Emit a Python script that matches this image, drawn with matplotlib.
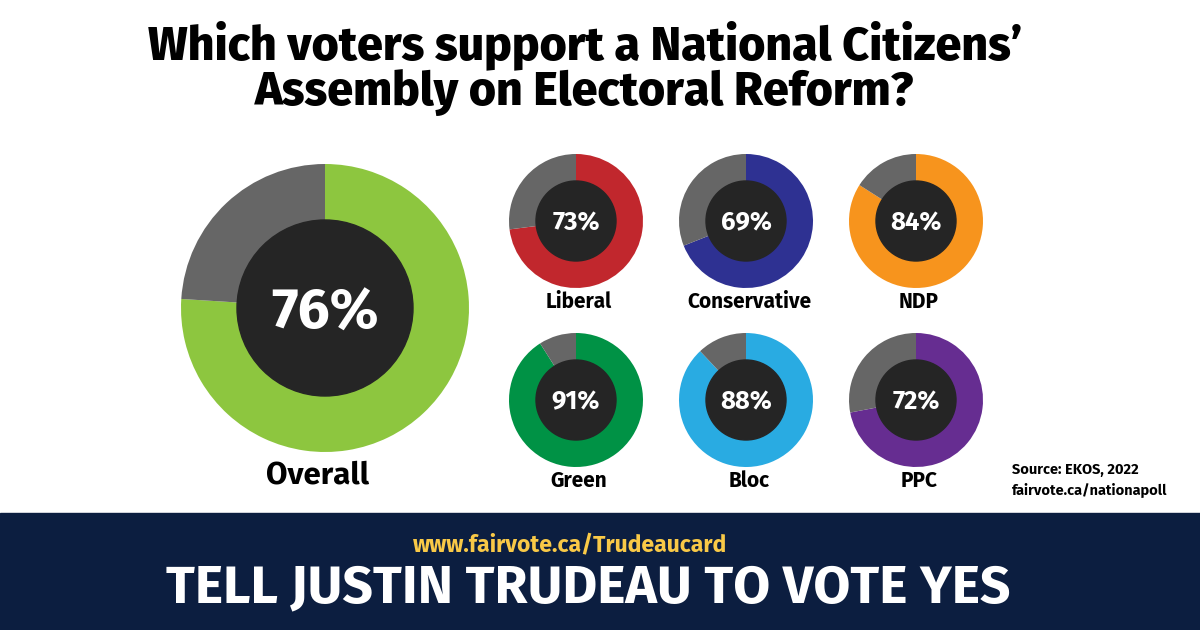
import matplotlib
matplotlib.use('Agg')
import matplotlib.pyplot as plt
from matplotlib.patches import Circle, Rectangle

# datos
titulo = ["Which voters support a National Citizens\u2019", "Assembly on Electoral Reform?"]
total_pct = 76
total_nombre = "Overall"
partidos = ["Liberal", "Conservative", "NDP", "Green", "Bloc", "PPC"]
apoyo = [73, 69, 84, 91, 88, 72]
colores = ["#c1272d", "#2e3192", "#f7941d", "#009245", "#29abe2", "#662d91"]
fuente = ["Source: EKOS, 2022", "fairvote.ca/nationapoll"]
url = "www.fairvote.ca/Trudeaucard"
lema = "TELL JUSTIN TRUDEAU TO VOTE YES"

gris = "#666666"
centro = "#252525"
azul_pie = "#0c1e40"
f_titulo = ["Fira Sans", "DejaVu Sans"]
f_texto = ["Fira Sans", "DejaVu Sans"]

W, H = 1200, 630
fig = plt.figure(figsize=(12, 6.3), dpi=100)
ax = fig.add_axes([0, 0, 1, 1])


def py(y):
    # coordenada en pixeles desde arriba
    return H - y


def donut(x, y, r, r_in, pct, color, texto, size):
    ax.pie([pct, 100 - pct], colors=[color, gris], startangle=90,
           counterclock=False, center=(x, py(y)), radius=r,
           wedgeprops=dict(linewidth=0), frame=True)
    ax.add_patch(Circle((x, py(y)), r_in, color=centro, zorder=3))
    ax.text(x, py(y), texto, color='white', ha='center', va='center_baseline',
            fontsize=size, fontweight=700, family=f_texto, zorder=4)


# titulo
for i, linea in enumerate(titulo):
    ax.text(585, py(45 + i * 48), linea, ha='center', va='center',
            fontsize=33.5, fontweight=800, family=f_titulo, color='black')

# donut general
donut(325, 308, 144, 88, total_pct, "#8dc63f", "{}%".format(total_pct), 41)
ax.text(318, py(475), total_nombre, ha='center', va='center', fontsize=22.5,
        fontweight=700, family=f_texto, color='black')

# donuts por partido
xs = [576, 746, 916]
ys = [221, 400]
for k, (nombre, val, col) in enumerate(zip(partidos, apoyo, colores)):
    x = xs[k % 3]
    y = ys[k // 3]
    donut(x, y, 67, 40, val, col, "{}%".format(val), 18.5)
    ax.text(x + 3, py(y + 81), nombre, ha='center', va='center', fontsize=15,
            fontweight=700, family=f_texto, color='black')

ax.set_xlim(0, W)
ax.set_ylim(0, H)
ax.set_aspect('equal')
ax.axis('off')

# fuente
for i, linea in enumerate(fuente):
    ax.text(1012, py(470 + i * 20), linea, ha='left', va='center', fontsize=10.5,
            fontweight=700, family=f_texto, color='black')

# franja inferior
ax.add_patch(Rectangle((0, 0), W, H - 513, color=azul_pie, zorder=1))
ax.text(570, py(546), url, ha='center', va='center', fontsize=16.5,
        fontweight=700, family=f_texto, color='#f9c947', zorder=2)
ax.text(588, py(589), lema, ha='center', va='center', fontsize=38.5,
        fontweight=700, family=f_texto, color='white', zorder=2)

fig.savefig('out.png', dpi=100, facecolor='white')
